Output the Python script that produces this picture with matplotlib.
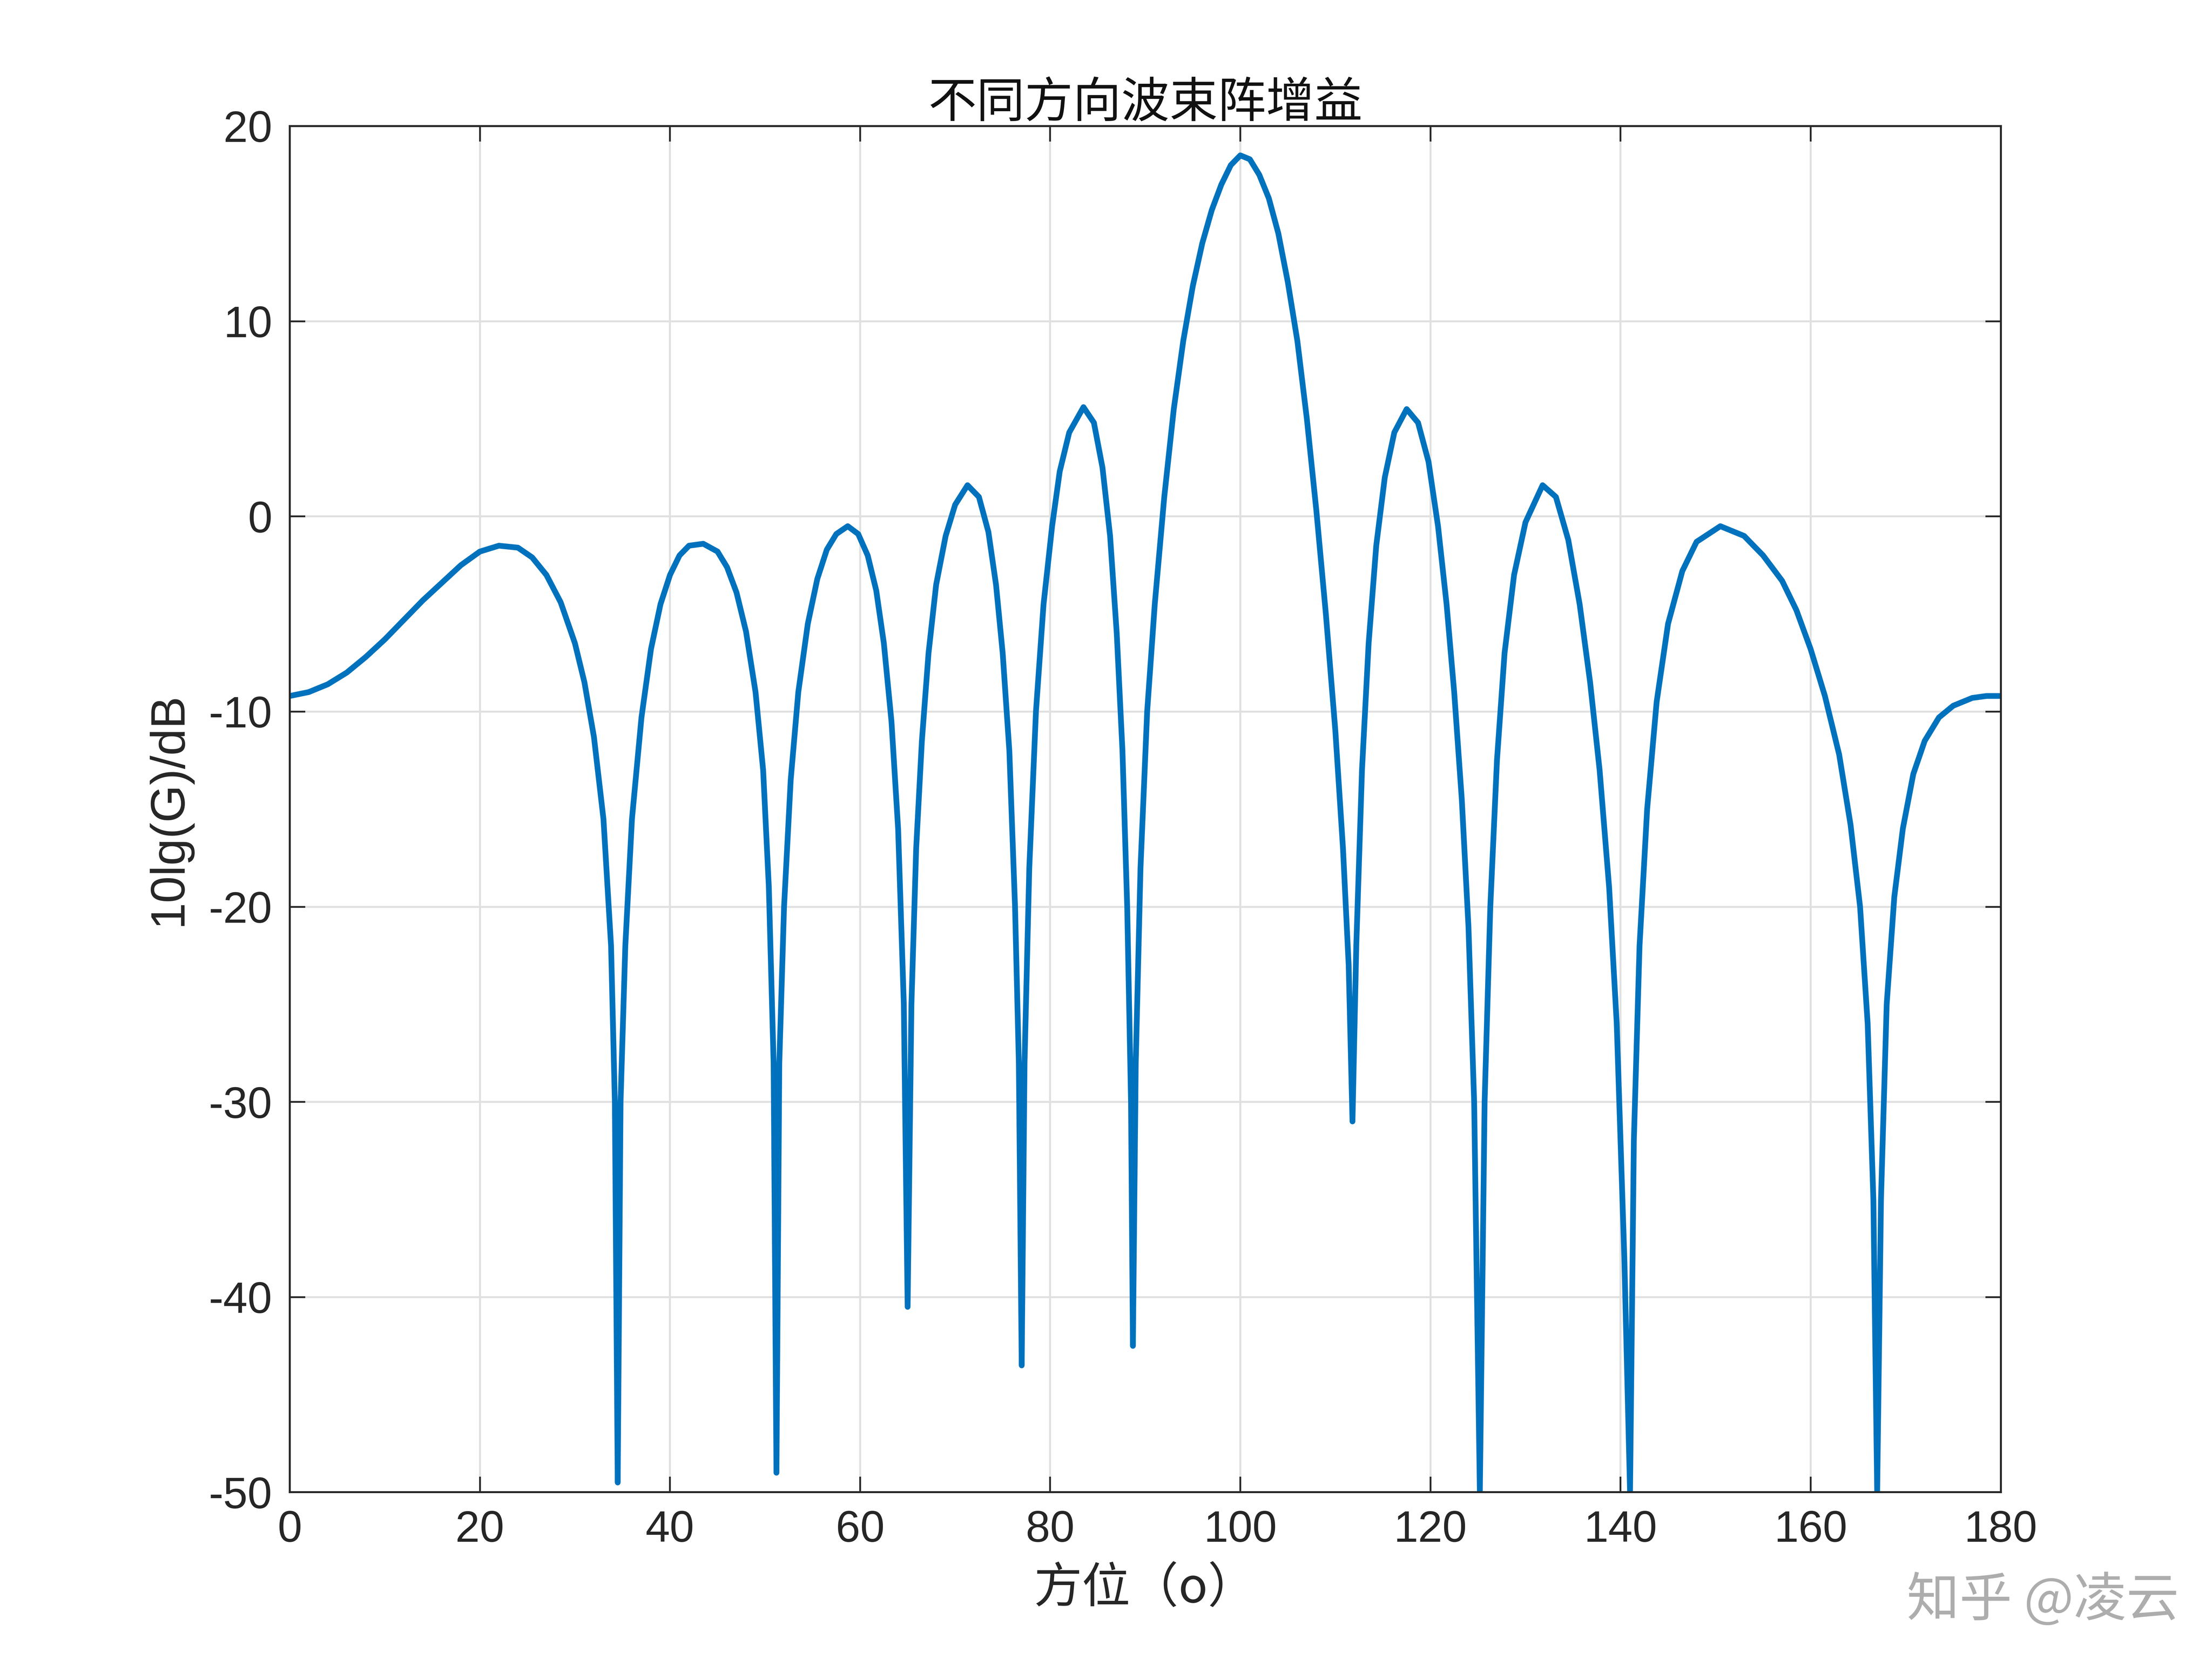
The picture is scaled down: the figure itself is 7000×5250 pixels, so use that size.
import matplotlib
matplotlib.use("Agg")
import matplotlib.pyplot as plt

plt.rcParams['font.family'] = ['Arial', 'Liberation Sans', 'Noto Sans CJK SC', 'DejaVu Sans']
plt.rcParams['axes.unicode_minus'] = False

azimuth = [0,2,4,6,8,10,12,14,16,18,20,22,24,25.5,27,28.5,30,31,32,33,33.8,34.2,34.5,
           34.8,35.3,36,37,38,39,40,41,42,43.5,45,46,47,48,49,49.8,50.4,50.9,51.2,
           51.5,52,52.7,53.5,54.5,55.5,56.5,57.5,58.7,59.8,60.8,61.7,62.5,63.3,64,64.6,65,
           65.4,65.9,66.5,67.2,68,69,70,71.3,72.5,73.5,74.3,75,75.7,76.3,76.7,77,
           77.3,77.8,78.5,79.3,80.2,81,82,83.5,84.6,85.5,86.3,87,87.6,88.1,88.5,88.7,
           89,89.5,90.2,91,92,93,94,95,96,97,98,99,100,101,102,103,104,105,106,107,108,109,110,110.8,111.4,111.8,
           112.2,112.8,113.5,114.3,115.2,116.2,117.5,118.7,119.8,120.8,121.7,122.5,123.3,124,124.6,125.2,
           125.7,126.3,127,127.8,128.8,130,131.8,133.2,134.5,135.7,136.8,137.8,138.8,139.6,140.4,141,
           141.4,142,142.8,143.8,145,146.5,148,150.5,153,155,157,158.5,160,161.5,163,164.2,165.2,166,166.6,167,
           167.4,168,168.8,169.7,170.8,172,173.5,175,177,178.5,180]
gain_db = [-9.2,-9.0,-8.6,-8.0,-7.2,-6.3,-5.3,-4.3,-3.4,-2.5,-1.8,-1.5,-1.6,-2.1,-3.0,-4.4,-6.5,-8.5,-11.3,-15.5,-22,-30,-49.5,
           -30,-22,-15.5,-10.3,-6.8,-4.5,-3.0,-2.0,-1.5,-1.4,-1.8,-2.6,-3.9,-5.9,-9,-13,-19,-28,-49,
           -28,-20,-13.5,-9,-5.5,-3.2,-1.7,-0.9,-0.5,-0.9,-2,-3.8,-6.5,-10.5,-16,-25,-40.5,
           -25,-17,-11.5,-7,-3.5,-1,0.6,1.6,1,-0.8,-3.5,-7,-12,-20,-28,-43.5,
           -28,-18,-10,-4.5,-0.5,2.3,4.3,5.6,4.8,2.5,-1,-6,-12,-20,-30,-42.5,
           -28,-18,-10,-4.5,1,5.5,9,11.8,14,15.7,17,18,18.5,18.3,17.5,16.3,14.5,12,9,5,0.3,-5,-11,-17,-23,-31,
           -22,-13,-6.5,-1.5,2,4.3,5.5,4.8,2.8,-0.5,-4.5,-9,-14.5,-21,-30,-50,
           -30,-20,-12.5,-7,-3,-0.3,1.6,1,-1.2,-4.5,-8.5,-13,-19,-26,-38,-50,
           -32,-22,-15,-9.5,-5.5,-2.8,-1.3,-0.5,-1,-2,-3.3,-4.8,-6.8,-9.2,-12.2,-15.8,-20,-26,-35,-50,
           -35,-25,-19.5,-16,-13.2,-11.5,-10.3,-9.7,-9.3,-9.2,-9.2]
xticks = list(range(0, 181, 20))
yticks = list(range(-50, 21, 10))

fig = plt.figure(figsize=(14, 10.5), dpi=500)
ax = fig.add_axes([0.131, 0.1005, 0.7825 - 0.009, 0.8235])
ax.plot(azimuth, gain_db, color='#0072BD', lw=2.6, solid_joinstyle='round')
ax.set_xlim(0, 180)
ax.set_ylim(-50, 20)
ax.set_xticks(xticks)
ax.set_yticks(yticks)
ax.grid(True, color='#e0e0e0', lw=0.9)
ax.tick_params(direction='in', top=True, right=True, labelsize=20, colors='#262626', length=7, pad=8)
for s in ax.spines.values():
    s.set_color('#262626')
    s.set_linewidth(0.9)
ax.set_xlabel('方位（o）', fontsize=22, family=['Noto Sans CJK SC', 'DejaVu Sans'], color='#262626', labelpad=6)
ax.set_ylabel('10lg(G)/dB', fontsize=22, color='#262626', labelpad=8)
ax.set_title('不同方向波束阵增益', fontsize=22, family=['Noto Sans CJK SC', 'DejaVu Sans'], color='#111111', pad=4)
fig.text(0.985, 0.035, '知乎 @凌云', ha='right', va='center', fontsize=24, color='#999999', alpha=0.8,
         family=['Noto Sans CJK SC', 'DejaVu Sans'])
fig.savefig('out.png')
